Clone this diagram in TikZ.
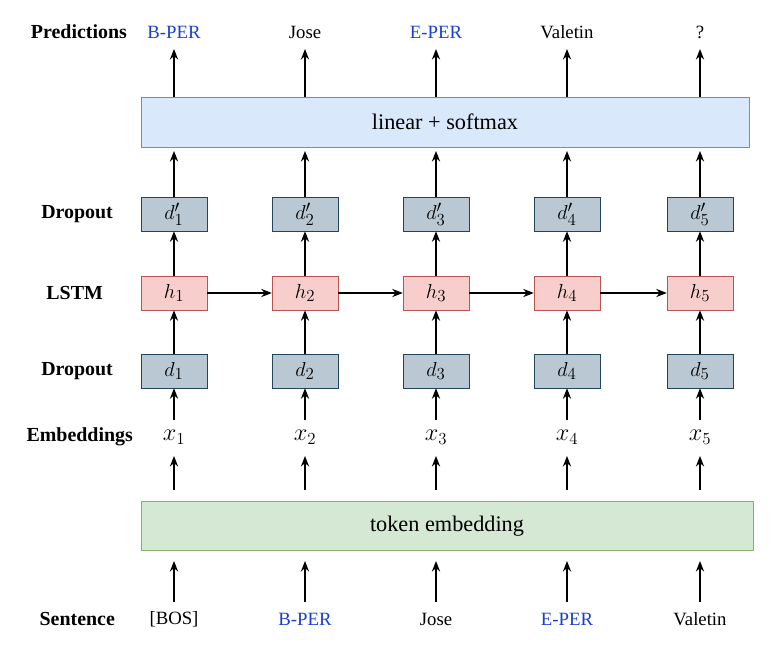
\documentclass[tikz,border=0pt]{standalone}
\usepackage{fontspec}
\setmainfont{Liberation Serif}
\usetikzlibrary{arrows.meta}
\definecolor{bfill}{HTML}{DAE8FC}\definecolor{bdraw}{HTML}{6C8EBF}
\definecolor{gfill}{HTML}{BAC8D3}\definecolor{gdraw}{HTML}{23445D}
\definecolor{rfill}{HTML}{F8CECC}\definecolor{rdraw}{HTML}{B85450}
\definecolor{efill}{HTML}{D5E8D4}\definecolor{edraw}{HTML}{82B366}
\definecolor{tblue}{HTML}{1A3FD0}
\begin{document}
\begin{tikzpicture}[x=0.03cm,y=-0.03cm,
  arr/.style={-{Stealth[length=9pt,width=7pt]},line width=1.1pt},
  gbox/.style={draw=gdraw,fill=gfill,minimum width=66*0.03cm,minimum height=34*0.03cm,inner sep=0pt,font=\fontsize{19}{22}\selectfont},
  rbox/.style={draw=rdraw,fill=rfill,minimum width=66*0.03cm,minimum height=34*0.03cm,inner sep=0pt,font=\fontsize{19}{22}\selectfont},
  lab/.style={anchor=east,font=\bfseries\fontsize{17}{20}\selectfont},
  txt/.style={font=\fontsize{16}{19}\selectfont},
  bt/.style={txt,text=tblue}]
\useasboundingbox (0,0) rectangle (777,655);
\node[draw=bdraw,fill=bfill,minimum width=608*0.03cm,minimum height=50*0.03cm,font=\fontsize{19}{22}\selectfont] (lin) at (445,122) {linear + softmax};
\node[draw=edraw,fill=efill,minimum width=612*0.03cm,minimum height=49*0.03cm,font=\fontsize{19}{22}\selectfont] (tok) at (447,526) {token embedding};
\node[lab] at (131,32) {Predictions};
\node[lab] at (117,214) {Dropout};
\node[lab] at (107,293) {LSTM};
\node[lab] at (117,371) {Dropout};
\node[lab] at (137,437) {Embeddings};
\node[lab] at (119,619) {Sentence};
\foreach \i/\x/\p/\s/\pb/\sb in {1/174/B-PER/[BOS]/1/0,2/305/Jose/B-PER/0/1,3/436/E-PER/Jose/1/0,4/567/Valetin/E-PER/0/1,5/700/?/Valetin/0/0}{
  \ifnum\pb=1 \node[bt] (p\i) at (\x,32) {\p};\else \node[txt] (p\i) at (\x,32) {\p};\fi
  \ifnum\sb=1 \node[bt] (s\i) at (\x,619) {\s};\else \node[txt] (s\i) at (\x,619) {\s};\fi
  \node[gbox] (dp\i) at (\x,214) {$d'_{\i}$};
  \node[rbox] (h\i) at (\x,293) {$h_{\i}$};
  \node[gbox] (d\i) at (\x,371) {$d_{\i}$};
  \node[font=\fontsize{20}{22}\selectfont] (x\i) at (\x,437) {$x_{\i}$};
  \coordinate (lt\i) at (\x,97);
  \coordinate (tt\i) at (\x,490);
  \draw[arr] (lt\i) -- (\x,49);
  \draw[arr] (dp\i.north) -- (\x,151);
  \draw[arr] (h\i.north) -- (dp\i.south);
  \draw[arr] (d\i.north) -- (h\i.south);
  \draw[arr] (\x,420) -- (d\i.south);
  \draw[arr] (tt\i) -- (\x,456);
  \draw[arr] (\x,602) -- (\x,561);
}
\foreach \a/\b in {1/2,2/3,3/4,4/5}{\draw[arr] (h\a.east) -- (h\b.west);}
\end{tikzpicture}
\end{document}
